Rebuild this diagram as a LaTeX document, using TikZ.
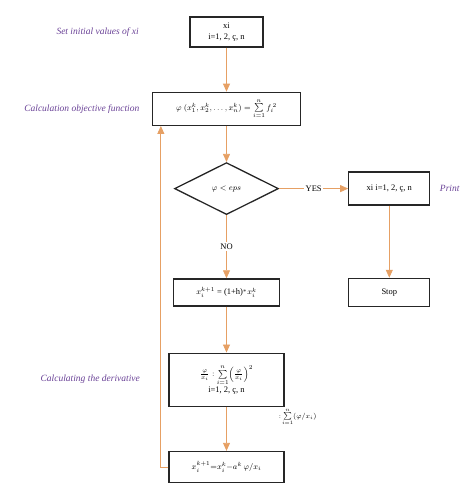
\documentclass[tikz,border=0pt]{standalone}
\usepackage{amsmath,amssymb}
\usepackage{fontspec}
\setmainfont{Liberation Serif}
\usetikzlibrary{arrows.meta, positioning, shapes.geometric}

\definecolor{floworange}{RGB}{230,160,100}
\definecolor{notepurple}{RGB}{105,65,150}

\begin{document}
\begin{tikzpicture}[
    block/.style={rectangle, draw=black!85, line width=1.3pt, inner sep=2pt, align=center, font=\fontsize{8.5}{11}\selectfont},
    decision/.style={diamond, draw=black!85, line width=1.3pt, inner sep=0pt, minimum width=104pt, minimum height=52pt, font=\fontsize{8.5}{10}\selectfont},
    note/.style={text=notepurple, font=\fontsize{9.5}{11}\selectfont\itshape},
    arrow/.style={-{Triangle[length=8pt, width=7pt]}, draw=floworange, line width=0.8pt},
    lbl/.style={fill=white, inner sep=1.5pt, font=\fontsize{8.5}{10}\selectfont}
]
\useasboundingbox (0,0) rectangle (474pt,-494pt);

\node[block, minimum width=73pt, minimum height=30pt] (init) at (226.5pt,-32pt) {xi\\i=1, 2, ç, n};
\node[block, minimum width=148pt, minimum height=33pt, below=44pt of init] (objective) {$\varphi\ (x^{k}_{1}, x^{k}_{2}, \ldots, x^{k}_{n}) = \sum\limits_{i=1}^{n} f_i^{\,2}$};
\node[decision, below=36pt of objective] (check) {$\varphi < eps$};
\node[block, minimum width=81pt, minimum height=33pt, right=69pt of check] (print) {xi i=1, 2, ç, n};
\node[block, minimum width=81pt, minimum height=28pt, below=72pt of print] (stop) {Stop};
\node[block, minimum width=106pt, minimum height=27pt, below=63pt of check] (update) {$x_i^{k+1}$ = (1+h)$^{*}x_i^{k}$};
\node[block, minimum width=115pt, minimum height=53pt, below=46pt of update] (deriv) {$\frac{\varphi}{x_i} : \sum\limits_{i=1}^{n}\Bigl(\frac{\varphi}{x_i}\Bigr)^{2}$\\[1pt]i=1, 2, ç, n};
\node[block, minimum width=115pt, minimum height=31pt, below=44pt of deriv] (step) {$x_i^{k+1}{=}x_i^{k}{-}a^{k}\,\varphi/x_i$};

% side notes
\node[note, left=47pt of init] (noteinit) {Set initial values of xi};
\node[note, left=9pt of objective] (noteobj) {Calculation objective function};
\node[note, left=25pt of deriv] (notederiv) {Calculating the derivative};
\node[note, right=6pt of print] (noteprint) {Print};
\node[font=\fontsize{7.5}{9}\selectfont] (sumnote) at ([xshift=13pt, yshift=-10pt]deriv.south east) {$:\!\sum\limits_{i=1}^{n}(\varphi/x_i)$};

\coordinate (back) at ([xshift=9pt]objective.south west);

\draw[arrow] (init) -- (objective);
\draw[arrow] (objective) -- (check);
\draw[arrow] (check) -- node[lbl] {YES} (print);
\draw[arrow] (check) -- node[lbl] {NO} (update);
\draw[arrow] (print) -- (stop);
\draw[arrow] (update) -- (deriv);
\draw[arrow] (deriv) -- (step);
\draw[arrow] (step.west) -| (back);

\end{tikzpicture}
\end{document}
